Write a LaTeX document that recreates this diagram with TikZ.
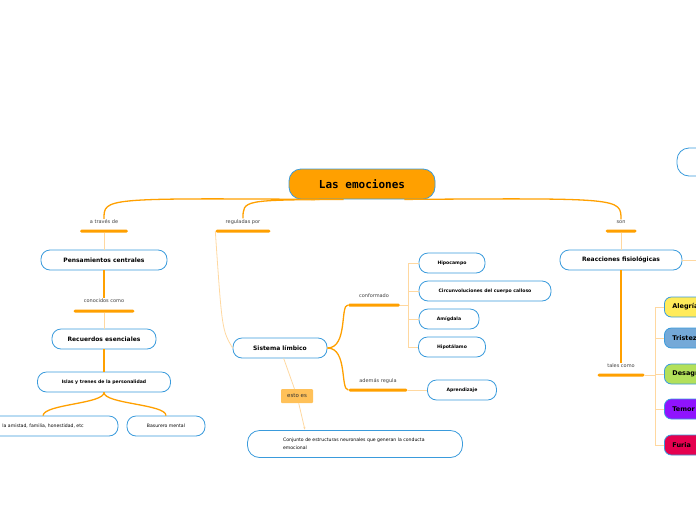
\documentclass[tikz,border=0pt]{standalone}
\usepackage{fontspec}
\setmainfont{DejaVu Sans}
\newfontfamily\titlefont{DejaVu Sans Mono}
\usetikzlibrary{arrows.meta}
\definecolor{mainorange}{HTML}{FFA000}
\definecolor{lightorange}{HTML}{FFD8A0}
\definecolor{boxblue}{HTML}{3A9BDC}
\definecolor{emoyellow}{HTML}{FFEB5A}
\definecolor{emoblue}{HTML}{74A9D8}
\definecolor{emogreen}{HTML}{B3E05A}
\definecolor{emopurple}{HTML}{9013FE}
\definecolor{emored}{HTML}{E5004F}
\tikzset{
  topic/.style={draw=boxblue, line width=.8pt, rounded corners=9pt, fill=white, minimum height=20pt, inner sep=1pt, font=\fontsize{6}{7}\selectfont\bfseries},
  sub/.style={topic, font=\fontsize{4.6}{5.5}\selectfont\bfseries},
  lbl/.style={font=\fontsize{5}{6}\selectfont, text=black!75, inner sep=1pt},
  bar/.style={fill=mainorange, minimum height=3pt, inner sep=0pt, rounded corners=1.5pt},
  main/.style={draw=mainorange, line width=1.3pt},
  thin/.style={draw=lightorange, line width=.8pt},
  emo/.style={draw=boxblue, line width=.8pt, rounded corners=7pt, minimum height=20pt, text width=50pt, align=left, inner xsep=8pt, inner ysep=1pt, font=\fontsize{6.5}{7}\selectfont\bfseries}
}
\begin{document}
\begin{tikzpicture}[x=1pt,y=-1pt]
\useasboundingbox (0,0) rectangle (696,520);
\clip (0,0) rectangle (696,520);
% title
\node[draw=boxblue, line width=.8pt, fill=mainorange, rounded corners=12pt, minimum width=146pt, minimum height=30pt, font=\titlefont\fontsize{11}{12}\selectfont\bfseries] (title) at (362,184) {Las emociones};
\node[topic, minimum width=60pt, minimum height=28pt, rounded corners=12pt] (extra) at (707,162) {};
% labels and bars
\node[lbl] (ltraves) at (104,222) {a través de};
\node[bar, minimum width=48pt] (btraves) at (104,231) {};
\node[lbl] (lreg) at (243,222) {reguladas por};
\node[bar, minimum width=55pt] (breg) at (243,231) {};
\node[lbl] (lson) at (621,222) {son};
\node[bar, minimum width=31pt] (bson) at (621,231) {};
\node[lbl] (lcon) at (104,301) {conocidos como};
\node[bar, minimum width=61pt] (bcon) at (104,311) {};
\node[lbl] (lconf) at (374,296) {conformado};
\node[bar, minimum width=52pt] (bconf) at (374,305) {};
\node[lbl] (lade) at (378,381) {además regula};
\node[bar, minimum width=59pt] (bade) at (378,390) {};
\node[lbl] (ltal) at (621,366) {tales como};
\node[bar, minimum width=47pt] (btal) at (621,375) {};
% topics
\node[topic, minimum width=126pt] (pens) at (104,260) {Pensamientos centrales};
\node[topic, minimum width=104pt] (rec) at (104,339) {Recuerdos esenciales};
\node[sub, minimum width=133pt] (islas) at (104,382) {Islas y trenes de la personalidad};
\node[sub, font=\fontsize{4.6}{5.5}\selectfont, minimum width=150pt] (amis) at (43,426) {la amistad, familia, honestidad, etc};
\node[sub, font=\fontsize{4.6}{5.5}\selectfont, minimum width=78pt] (bas) at (166,426) {Basurero mental};
\node[topic, minimum width=94pt] (sis) at (280,348) {Sistema límbico};
\node[fill=mainorange!65, rounded corners=1pt, minimum width=32pt, minimum height=14pt, inner sep=1pt, font=\fontsize{5.5}{6}\selectfont, text=black!80] (esto) at (297,396) {esto es};
\node[topic, rounded corners=12pt, minimum width=215pt, minimum height=27pt, font=\fontsize{4.6}{8}\selectfont, align=left] (conj) at (355,444) {Conjunto de estructuras neuronales que generan la conducta\\emocional\hspace*{120pt}};
\node[sub, minimum width=66pt] (hipo) at (452,263) {Hipocampo};
\node[sub, minimum width=132pt] (circ) at (485,291) {Circunvoluciones del cuerpo calloso};
\node[sub, minimum width=60pt] (amig) at (449,319) {Amígdala};
\node[sub, minimum width=67pt] (hipot) at (452,347) {Hipotálamo};
\node[sub, minimum width=69pt] (apr) at (462,390) {Aprendizaje};
\node[topic, minimum width=122pt] (reac) at (621,260) {Reacciones fisiológicas};
\node[emo, fill=emoyellow, anchor=west] (ale) at (664,307) {Alegría};
\node[emo, fill=emoblue, anchor=west] (tri) at (664,338) {Tristeza};
\node[emo, fill=emogreen, anchor=west] (des) at (664,374) {Desagrado};
\node[emo, fill=emopurple, anchor=west] (tem) at (664,409) {Temor};
\node[emo, fill=emored, anchor=west] (fur) at (664,445) {Furia};
% connectors
\draw[main] (title.200) .. controls (104,198) .. (ltraves.north);
\draw[main] (title.220) .. controls (243,200) .. (lreg.north);
\draw[main] (title.-20) .. controls (621,198) .. (lson.north);
\draw[thin] (btraves) -- (pens);
\draw[main] (pens) -- (lcon);
\draw[thin] (bcon) -- (rec);
\draw[main] (rec) -- (islas);
\draw[main] (islas.south) .. controls (104,404) and (44,404) .. (amis.north);
\draw[main] (islas.south) .. controls (104,404) and (166,404) .. (bas.north);
\draw[thin] (breg.west) .. controls (222,330) .. (sis.west);
\draw[main] (sis.east) .. controls (348,348) and (340,305) .. (bconf.west);
\draw[main] (sis.east) .. controls (348,348) and (340,390) .. (bade.west);
\foreach \n in {hipo,circ,amig,hipot}
  \draw[thin] (bconf.east) -- (408,305) |- (\n.west);
\draw[thin] (bade) -- (apr);
\draw[thin] (sis) -- (esto);
\draw[thin, -{Latex[length=3pt]}] (esto) -- (conj.north -| 305,0);
\draw[thin] (bson) -- (reac);
\draw[thin] (reac.east) -- (696,260);
\draw[main] (reac) -- (ltal);
\foreach \n in {ale,tri,des,tem,fur}
  \draw[thin] (btal.east) -- (655,375) |- (\n.west);
\end{tikzpicture}
\end{document}
